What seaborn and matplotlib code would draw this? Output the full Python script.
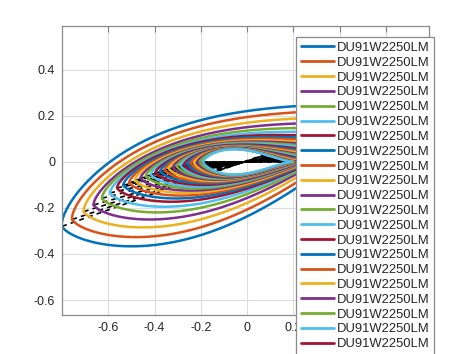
import numpy as np
import pandas as pd
import matplotlib
matplotlib.use("Agg")
import matplotlib.pyplot as plt
import seaborn as sns

# rings, outer -> inner: leading point, trailing point, relative half thickness
lead_x = [-0.800, -0.756, -0.706, -0.663, -0.627, -0.592, -0.562, -0.535, -0.509, -0.484,
          -0.460, -0.437, -0.416, -0.395, -0.375, -0.356, -0.338, -0.320, -0.303, -0.287,
          -0.272, -0.257, -0.243, -0.229, -0.216, -0.203, -0.190]
lead_y = [-0.280, -0.250, -0.216, -0.187, -0.158, -0.135, -0.113, -0.101, -0.090, -0.079,
          -0.070, -0.061, -0.054, -0.046, -0.040, -0.034, -0.028, -0.023, -0.019, -0.015,
          -0.012, -0.009, -0.006, -0.004, -0.002, -0.001, 0.000]
trail_x = [0.800, 0.756, 0.706, 0.663, 0.627, 0.592, 0.562, 0.535, 0.509, 0.484,
           0.460, 0.437, 0.416, 0.395, 0.375, 0.356, 0.338, 0.320, 0.303, 0.287,
           0.272, 0.257, 0.243, 0.229, 0.216, 0.203, 0.195]
trail_y = [0.290, 0.258, 0.223, 0.193, 0.163, 0.139, 0.116, 0.104, 0.093, 0.081,
           0.072, 0.063, 0.056, 0.047, 0.041, 0.035, 0.029, 0.024, 0.020, 0.015,
           0.012, 0.009, 0.006, 0.004, 0.002, 0.001, 0.000]
thickness = [0.216, 0.203, 0.191, 0.182, 0.175, 0.170, 0.166, 0.163, 0.161, 0.160,
             0.159, 0.159, 0.159, 0.160, 0.161, 0.163, 0.165, 0.168, 0.172, 0.176,
             0.181, 0.186, 0.192, 0.198, 0.205, 0.212, 0.220]
label = "DU91W2250LM"
n_legend = 21
matlab_colors = ["#0072BD", "#D95319", "#EDB120", "#7E2F8E", "#77AC30", "#4DBEEE", "#A2142F"]

nose = 0.75    # <1 -> slimmer nose


def ring(x0, y0, x1, y1, t):
    phi = np.linspace(0, 2 * np.pi, 500)
    c = np.hypot(x1 - x0, y1 - y0)
    a = np.arctan2(y1 - y0, x1 - x0)
    w = (1 - np.cos(phi)) / 2
    u = w ** nose * c
    v = t * c * np.sin(phi) * (1 + np.cos(phi)) / 2
    x = x0 + u * np.cos(a) - v * np.sin(a)
    y = y0 + u * np.sin(a) + v * np.cos(a)
    return pd.DataFrame({"x": x, "y": y})


sns.set_style("white")
plt.rcParams["font.family"] = ["Liberation Sans", "DejaVu Sans"]

fig = plt.figure(figsize=(4.74, 3.54), dpi=100)
ax = fig.add_axes([62 / 474, 1 - 315 / 354, 367 / 474, 289 / 354])

# chord lines (dashed, under the rings)
for i in range(len(lead_x)):
    ax.plot([lead_x[i], trail_x[i]], [lead_y[i], trail_y[i]], color="black",
            linestyle=(0, (3, 2.5)), linewidth=1.2, zorder=1)

for i in range(len(lead_x)):
    df = ring(lead_x[i], lead_y[i], trail_x[i], trail_y[i], thickness[i])
    sns.lineplot(data=df, x="x", y="y", sort=False, estimator=None, ax=ax,
                 color=matlab_colors[i % 7], linewidth=1.8,
                 label=label if i < n_legend else "_nolegend_", zorder=2)

ax.set_xlim(-0.8, 0.787)
ax.set_ylim(-0.665, 0.59)
ax.set_xticks([-0.6, -0.4, -0.2, 0, 0.2, 0.4, 0.6])
ax.set_xticklabels(["-0.6", "-0.4", "-0.2", "0", "0.2", "", ""])
ax.set_yticks([-0.6, -0.4, -0.2, 0, 0.2, 0.4])
ax.set_yticklabels(["-0.6", "-0.4", "-0.2", "0", "0.2", "0.4"])
ax.set_xlabel("")
ax.set_ylabel("")
ax.grid(True, color="#dedede", linewidth=0.8)
ax.set_axisbelow(True)
ax.tick_params(direction="in", length=4, width=0.8, color="#808080",
               labelsize=9, labelcolor="#262626", top=True, right=True, pad=5)
for s in ax.spines.values():
    s.set_color("#8a8a8a")
    s.set_linewidth(0.9)

leg = ax.legend(loc="upper left", bbox_to_anchor=(296 / 474, 1 - 37.3 / 354),
                bbox_transform=fig.transFigure, fontsize=9.4, frameon=True, fancybox=False,
                handlelength=2.55, handletextpad=0.25, labelspacing=0.205,
                borderpad=0.35, borderaxespad=0)
leg.get_frame().set_edgecolor("#8a8a8a")
leg.get_frame().set_linewidth(0.9)
leg.get_frame().set_alpha(1)
for line in leg.get_lines():
    line.set_linewidth(2.0)

fig.savefig("out.png", dpi=100)
